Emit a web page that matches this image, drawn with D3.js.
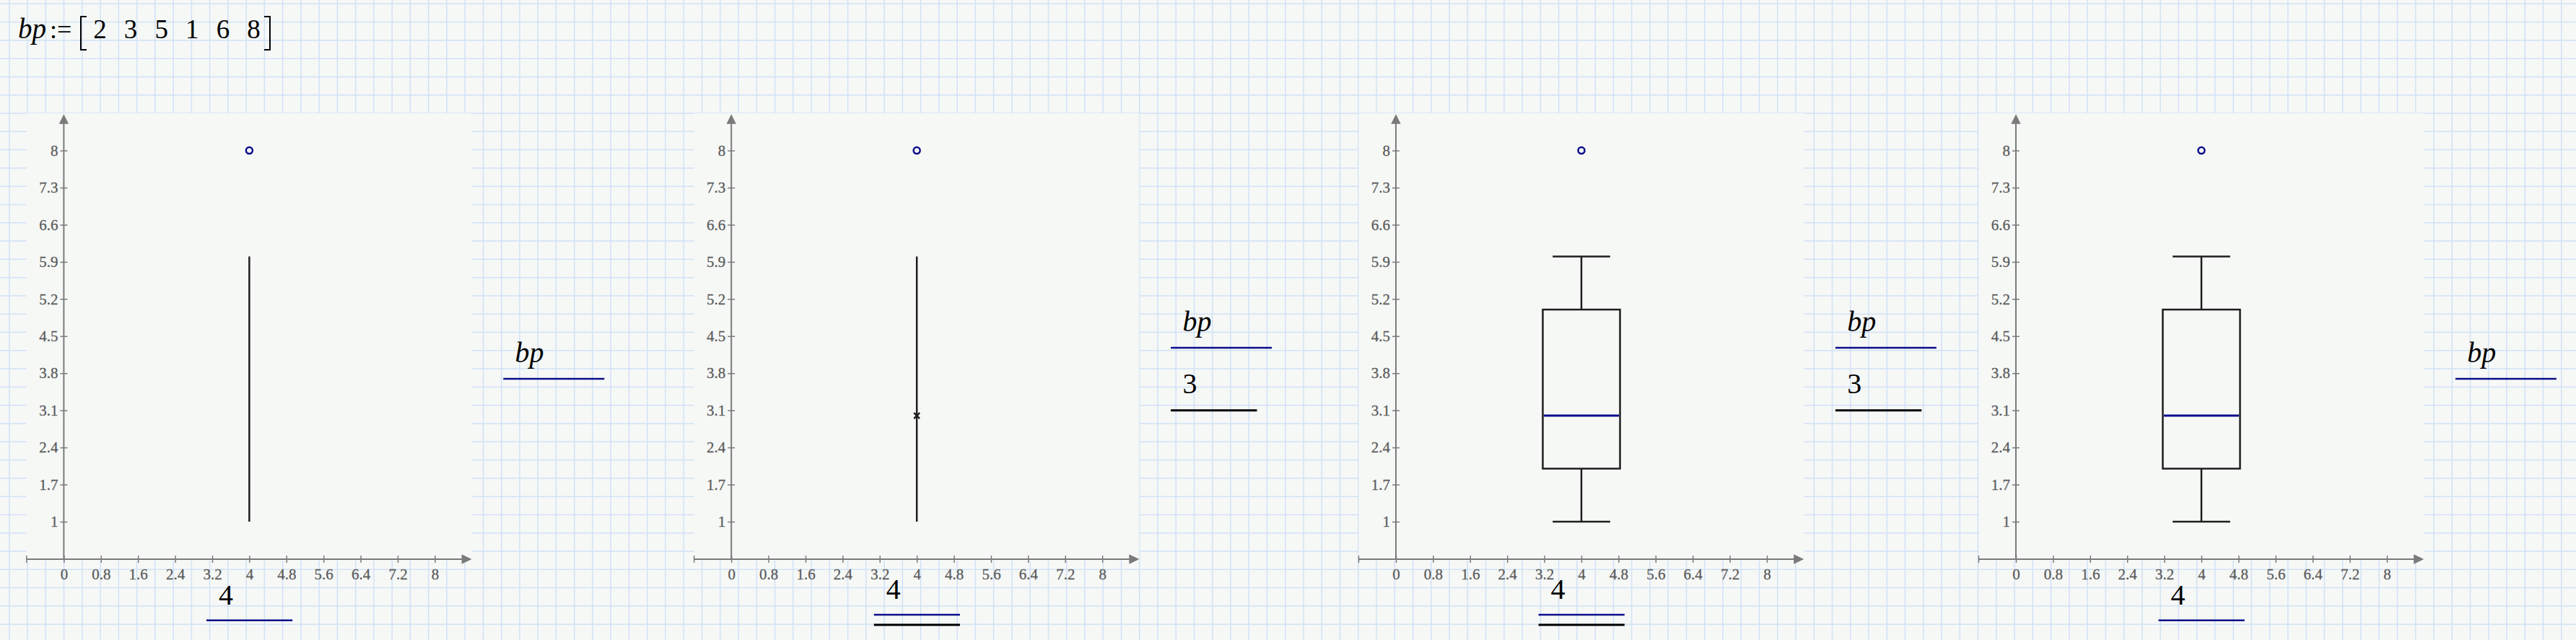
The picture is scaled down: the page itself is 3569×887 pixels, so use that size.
<!DOCTYPE html>
<html>
<head>
<meta charset="utf-8">
<script src="https://cdn.jsdelivr.net/npm/d3@7"></script>
<style>
  body { margin: 0; background: #f6f8f6; }
  svg { display: block; }
</style>
</head>
<body>
<div id="chart"></div>
<script>
// worksheet values
const bp = [2, 3, 5, 1, 6, 8];
const xTicks = [0, 0.8, 1.6, 2.4, 3.2, 4, 4.8, 5.6, 6.4, 7.2, 8];
const yTicks = [1, 1.7, 2.4, 3.1, 3.8, 4.5, 5.2, 5.9, 6.6, 7.3, 8];
const boxAt = 4;                       // x value of every trace
const whiskerLo = 1, q1 = 2, med = 3, q3 = 5, whiskerHi = 6;
const outliers = [8];
const markY = 3;                       // second trace ("3")

const width = 3569, height = 887;
const serif = "'Liberation Serif', 'DejaVu Serif', serif";
const navy = "#0c0c8c", ink = "#1e1e1e", axisCol = "#7a7a7a";
const plain = d => String(d);

// four plot regions, left to right
const panels = [
  {ax: 88.4,   box: false, mark: false, second: false},
  {ax: 1013.2, box: false, mark: true,  second: true},
  {ax: 1934,   box: true,  mark: false, second: true},
  {ax: 2793,   box: true,  mark: false, second: false}
];
const panelTop = 157, axisY = 775, panelBottom = 777;

const svg = d3.select("#chart").append("svg")
  .attr("width", width).attr("height", height);

// worksheet grid paper
const grid = svg.append("g").attr("stroke", "#d1e1f6").attr("stroke-width", 1.5);
grid.selectAll("line.v").data(d3.range(12.8, width, 25.257)).join("line")
  .attr("class", "v")
  .attr("x1", d => d).attr("x2", d => d).attr("y1", 0).attr("y2", height);
grid.selectAll("line.h").data(d3.range(5.3, height, 25.29)).join("line")
  .attr("class", "h")
  .attr("x1", 0).attr("x2", width).attr("y1", d => d).attr("y2", d => d);

// bp := [ ... ]
const title = svg.append("g").attr("font-family", serif);
title.append("text").attr("x", 25).attr("y", 53)
  .attr("font-size", 39).attr("font-style", "italic").text("bp");
title.append("text").attr("x", 69).attr("y", 53)
  .attr("font-size", 36).text(":=");
title.selectAll("text.num").data(bp).join("text")
  .attr("class", "num")
  .attr("x", (d, i) => 138.5 + i * 42.6).attr("y", 53)
  .attr("text-anchor", "middle").attr("font-size", 37).text(d => d);
title.append("path").attr("fill", "none").attr("stroke", "#000").attr("stroke-width", 2)
  .attr("d", "M120,23H112V69H120");
title.append("path").attr("fill", "none").attr("stroke", "#000").attr("stroke-width", 2)
  .attr("d", "M366,23H374V69H366");

panels.forEach(p => {
  const x = d3.scaleLinear().domain([0, 8]).range([p.ax, p.ax + 514]);
  const y = d3.scaleLinear().domain([1, 8]).range([723, 208.6]);
  const left = p.ax - 51.5, right = p.ax + 565.2;

  const g = svg.append("g");
  g.append("rect").attr("x", left).attr("y", panelTop)
    .attr("width", right - left).attr("height", panelBottom - panelTop)
    .attr("fill", "#f6f8f6");

  // axes
  const xAxis = g.append("g").attr("transform", `translate(0,${axisY})`)
    .call(d3.axisBottom(x).tickValues(xTicks).tickFormat(plain).tickSize(5).tickPadding(8));
  xAxis.selectAll(".tick line").attr("y1", -5);
  const yAxis = g.append("g").attr("transform", `translate(${p.ax},0)`)
    .call(d3.axisLeft(y).tickValues(yTicks).tickFormat(plain).tickSize(5).tickPadding(3));
  yAxis.selectAll(".tick line").attr("x1", 5);
  [xAxis, yAxis].forEach(a => {
    a.select(".domain").remove();
    a.attr("font-family", serif).attr("font-size", 21);
    a.selectAll(".tick line").attr("stroke", axisCol).attr("stroke-width", 1.5);
    a.selectAll(".tick text").attr("fill", "#5c5c5c")
      .attr("stroke", "#5c5c5c").attr("stroke-width", 0.3);
  });

  g.append("line").attr("x1", left).attr("x2", right - 10)
    .attr("y1", axisY).attr("y2", axisY)
    .attr("stroke", axisCol).attr("stroke-width", 2);
  g.append("line").attr("x1", left).attr("x2", left)
    .attr("y1", axisY - 5).attr("y2", axisY + 5)
    .attr("stroke", axisCol).attr("stroke-width", 1.5);
  g.append("path").attr("fill", axisCol)
    .attr("d", `M${right},${axisY}L${right - 14},${axisY - 6.7}L${right - 14},${axisY + 6.7}Z`);
  g.append("line").attr("x1", p.ax).attr("x2", p.ax)
    .attr("y1", panelTop + 10).attr("y2", axisY)
    .attr("stroke", axisCol).attr("stroke-width", 2);
  g.append("path").attr("fill", axisCol)
    .attr("d", `M${p.ax},${panelTop + 1.3}L${p.ax - 6.7},${panelTop + 14.7}L${p.ax + 6.7},${panelTop + 14.7}Z`);

  // box plot
  const cx = x(boxAt);
  const halfBox = x(boxAt + 0.833) - cx, halfCap = x(boxAt + 0.62) - cx;
  const marks = g.append("g").attr("stroke", ink).attr("stroke-width", 2.5).attr("fill", "none");
  if (p.box) {
    marks.append("line").attr("x1", cx).attr("x2", cx).attr("y1", y(whiskerHi)).attr("y2", y(q3));
    marks.append("line").attr("x1", cx).attr("x2", cx).attr("y1", y(q1)).attr("y2", y(whiskerLo));
    [whiskerHi, whiskerLo].forEach(v => marks.append("line")
      .attr("x1", cx - halfCap).attr("x2", cx + halfCap).attr("y1", y(v)).attr("y2", y(v)));
    marks.append("rect").attr("x", cx - halfBox).attr("y", y(q3))
      .attr("width", 2 * halfBox).attr("height", y(q1) - y(q3));
    g.append("line").attr("x1", cx - halfBox + 1.5).attr("x2", cx + halfBox - 1.5)
      .attr("y1", y(med)).attr("y2", y(med))
      .attr("stroke", navy).attr("stroke-width", 3);
  } else {
    marks.append("line").attr("x1", cx).attr("x2", cx)
      .attr("y1", y(whiskerHi)).attr("y2", y(whiskerLo));
  }
  if (p.mark) {
    const s = 4, my = y(markY);
    marks.append("path").attr("stroke-width", 2.5)
      .attr("d", `M${cx - s},${my - s}L${cx + s},${my + s}M${cx - s},${my + s}L${cx + s},${my - s}`);
  }
  g.selectAll("circle.out").data(outliers).join("circle")
    .attr("class", "out")
    .attr("cx", cx).attr("cy", d => y(d)).attr("r", 4.5)
    .attr("fill", "none").attr("stroke", navy).attr("stroke-width", 2.5);

  // y-axis trace labels beside the plot
  const lab = g.append("g").attr("font-family", serif).attr("font-size", 40);
  const lx = right + 43.7;
  const bpBase = p.second ? 459 : 502;
  lab.append("text").attr("x", right + 60).attr("y", bpBase)
    .attr("font-style", "italic").text("bp");
  lab.append("line").attr("x1", lx).attr("x2", lx + 140)
    .attr("y1", bpBase + 23).attr("y2", bpBase + 23)
    .attr("stroke", navy).attr("stroke-width", 2.5);
  if (p.second) {
    lab.append("text").attr("x", right + 60).attr("y", 545).text(markY);
    lab.append("line").attr("x1", lx).attr("x2", lx + 119.4)
      .attr("y1", 568.7).attr("y2", 568.7)
      .attr("stroke", "#000").attr("stroke-width", 3);
  }

  // x-axis trace label under the plot
  const xBase = p.second ? 830 : 837.7;
  lab.append("text").attr("x", p.ax + 224.5).attr("y", xBase)
    .attr("text-anchor", "middle").text(boxAt);
  lab.append("line").attr("x1", p.ax + 197.6).attr("x2", p.ax + 316.8)
    .attr("y1", xBase + 22).attr("y2", xBase + 22)
    .attr("stroke", navy).attr("stroke-width", 2.5);
  if (p.second) {
    lab.append("line").attr("x1", p.ax + 197.6).attr("x2", p.ax + 316.8)
      .attr("y1", 866).attr("y2", 866)
      .attr("stroke", "#000").attr("stroke-width", 3);
  }
});
</script>
</body>
</html>
